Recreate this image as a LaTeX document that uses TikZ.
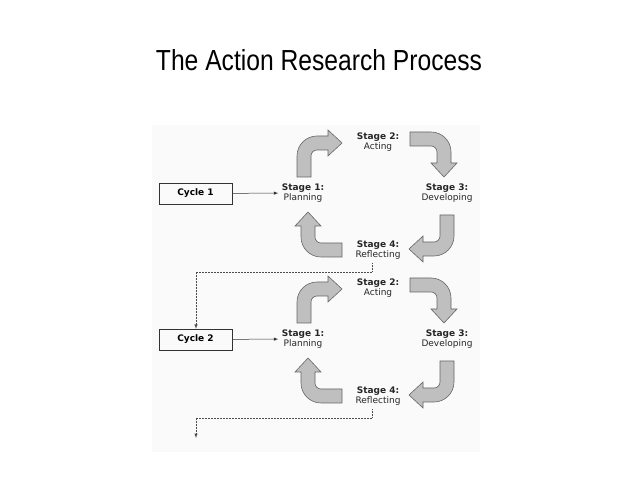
\documentclass[tikz,border=0pt]{standalone}
\usepackage{fontspec}
\setmainfont{DejaVu Sans}
\newfontfamily\titlefont[FakeStretch=0.85]{Liberation Sans}
\begin{document}
\begin{tikzpicture}[x=1pt,y=-1pt,
  lbl/.style={font=\fontsize{9}{10.5}\selectfont, align=center, text=black!85},
  box/.style={draw=black!80, minimum width=73pt, minimum height=21pt, inner sep=0pt, font=\bfseries\fontsize{9}{10}\selectfont},
  bigarrow/.style={fill=black!25, draw=black!60, line width=0.6pt},
  link/.style={-latex, black!80, line width=0.5pt},
  dotted link/.style={-latex, black!70, line width=0.5pt, densely dotted}]
\useasboundingbox (0,0) rectangle (638,478);
\fill[black!2] (152,125) rectangle (480,452);
\node[font=\titlefont\fontsize{29}{32}\selectfont] (title) at (319,60) {The Action Research Process};
\newcommand{\bentarrow}[2]{%
  \begin{scope}[shift={#1}, rotate=#2]
  \path[bigarrow] (-7,0) -- (-7,-21) arc[start angle=180,end angle=270,radius=20] -- (24,-41) -- (24,-47) -- (38,-34) -- (24,-21) -- (24,-27) -- (13,-27) arc[start angle=270,end angle=180,radius=6] -- (7,0) -- cycle;
  \end{scope}}
\foreach \c/\dy in {1/0,2/146}{
  \begin{scope}[shift={(0,\dy)}]
  \node[box] (cyc\c) at (195.5,193.5) {Cycle \c};
  \node[lbl] (s1\c) at (303,193) {\textbf{Stage 1:}\\Planning};
  \node[lbl] (s2\c) at (378,142) {\textbf{Stage 2:}\\Acting};
  \node[lbl] (s3\c) at (447,193) {\textbf{Stage 3:}\\Developing};
  \node[lbl] (s4\c) at (378,250) {\textbf{Stage 4:}\\Reflecting};
  \draw[link] (cyc\c) -- (s1\c);
  \bentarrow{(304,177)}{0}
  \bentarrow{(410,139)}{-90}
  \bentarrow{(447,215)}{180}
  \bentarrow{(342,250)}{90}
  \end{scope}}
\coordinate (a1) at (372,272);
\coordinate (a2) at (196,272);
\coordinate (b1) at (372,418);
\coordinate (b2) at (196,418);
\coordinate (bend) at (196,438);
\draw[dotted link] (s41.south -| a1) -- (a1) -- (a2) -- (cyc2.north -| a2);
\draw[dotted link] (s42.south -| b1) -- (b1) -- (b2) -- (bend);
\end{tikzpicture}
\end{document}
